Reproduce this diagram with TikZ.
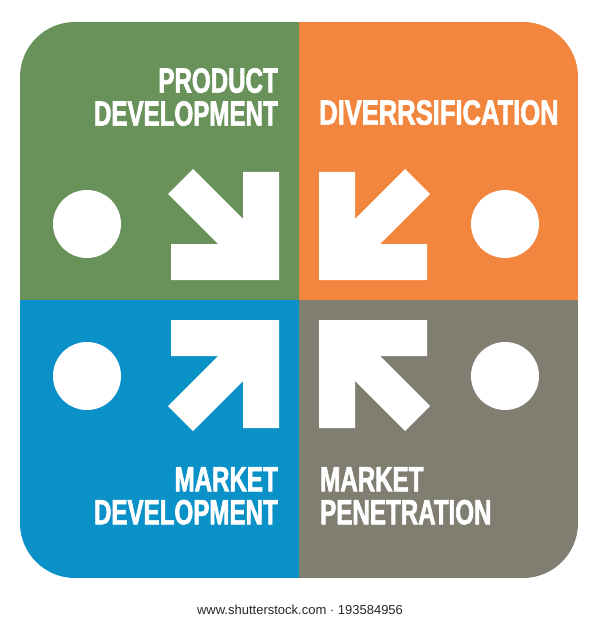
\documentclass[tikz,border=0pt]{standalone}
\usepackage{fontspec}
\setmainfont{Liberation Sans}
\newfontfamily\heavyfont{Liberation Sans}[FakeStretch=0.69, FakeBold=1.8]
\newfontfamily\heavywide{Liberation Sans}[FakeStretch=0.73, FakeBold=1.8]
\usetikzlibrary{positioning}
\definecolor{qgreen}{RGB}{105,145,90}
\definecolor{qorange}{RGB}{243,134,62}
\definecolor{qblue}{RGB}{10,145,200}
\definecolor{qgray}{RGB}{128,126,112}
\tikzset{quad-label/.style = {text=white, inner sep=0, font=\heavyfont\bfseries\fontsize{35}{33}\selectfont}}
\tikzset{quad-wide/.style = {quad-label, font=\heavywide\bfseries\fontsize{35}{33}\selectfont}}
\tikzset{chevron/.style = {fill=white}}
\tikzset{dot/.style = {fill=white}}

\begin{document}
\begin{tikzpicture}[x=1pt, y=-1pt]
  \useasboundingbox (0,0) rectangle (599,620);
  \begin{scope}
    \clip[rounded corners=55pt] (20,22) rectangle (578,578);
    \fill[qgreen]  (20,22)   rectangle (299,300);
    \fill[qorange] (299,22)  rectangle (578,300);
    \fill[qblue]   (20,300)  rectangle (299,578);
    \fill[qgray]   (299,300) rectangle (578,578);
  \end{scope}

  \foreach \x/\y in {87/224, 505/224, 87/376, 505/376}
  {
    \fill[dot] (\x,\y) circle[radius=34];
  }
  \foreach \x/\y/\sx/\sy in {279/280/1/1, 319/280/-1/1, 279/320/1/-1, 319/320/-1/-1}
  {
    \fill[chevron, shift={(\x,\y)}, xscale=\sx, yscale=\sy]
      (0,0) -- (-108,0) -- (-108,-36) -- (-61,-36) -- (-111,-86)
      -- (-86,-111) -- (-36,-61) -- (-36,-108) -- (0,-108) -- cycle;
  }

  \node[quad-label, anchor=north east, align=right] (pd) at (278,68) {PRODUCT\\DEVELOPMENT};
  \node[quad-wide, anchor=north west] (div) at (319,100) {DIVERRSIFICATION};
  \node[quad-label, anchor=north east, align=right] (md) at (278,467) {MARKET\\DEVELOPMENT};
  \node[quad-label, anchor=north west, align=left] (mp) at (320,467) {MARKET\\PENETRATION};
  \node[font=\fontsize{13}{13}\selectfont, text=black!85] (src) at (300,610) {www.shutterstock.com · 193584956};
\end{tikzpicture}
\end{document}
